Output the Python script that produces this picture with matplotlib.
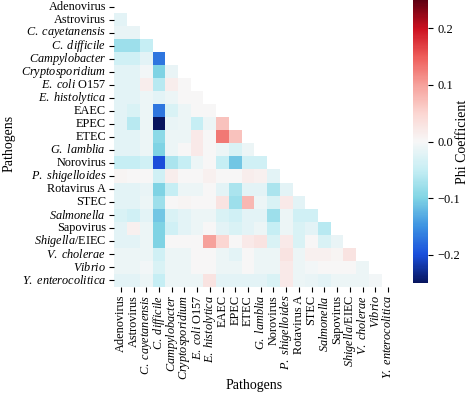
import numpy as np
import matplotlib
matplotlib.use('Agg')
import matplotlib.pyplot as plt
from matplotlib.colors import LinearSegmentedColormap
import seaborn as sns

plt.rcParams['font.family'] = 'Liberation Serif'
plt.rcParams['mathtext.fontset'] = 'custom'
plt.rcParams['mathtext.rm'] = 'Liberation Serif'
plt.rcParams['mathtext.it'] = 'Liberation Serif:italic'

pathogens = ['Adenovirus', 'Astrovirus', r'$\mathit{C.\ cayetanensis}$', r'$\mathit{C.\ difficile}$',
             r'$\mathit{Campylobacter}$', r'$\mathit{Cryptosporidium}$', r'$\mathit{E.\ coli}$ O157',
             r'$\mathit{E.\ histolytica}$', 'EAEC', 'EPEC', 'ETEC', r'$\mathit{G.\ lamblia}$',
             'Norovirus', r'$\mathit{P.\ shigelloides}$', 'Rotavirus A', 'STEC', r'$\mathit{Salmonella}$',
             'Sapovirus', r'$\mathit{Shigella}$/EIEC', r'$\mathit{V.\ cholerae}$', r'$\mathit{Vibrio}$',
             r'$\mathit{Y.\ enterocolitica}$']

# lower triangle of phi coefficients, row i has i values (cols 0..i-1)
phi_rows = [
    [],
    [-0.02],
    [-0.015, -0.015],
    [-0.08, -0.08, -0.05],
    [-0.04, -0.04, -0.02, -0.17],
    [-0.02, -0.02, -0.005, -0.10, -0.015],
    [-0.02, -0.02, 0.015, -0.06, 0.015, 0.0],
    [-0.02, -0.02, -0.01, -0.02, -0.01, 0.0, 0.0],
    [-0.02, -0.03, -0.01, -0.17, -0.03, -0.01, 0.0, 0.0],
    [-0.02, -0.06, -0.01, -0.25, -0.015, -0.01, -0.05, -0.01, 0.07],
    [-0.02, -0.02, -0.01, -0.09, -0.01, -0.01, 0.02, 0.0, 0.13, 0.07],
    [-0.02, -0.02, -0.01, -0.10, -0.01, 0.0, 0.02, 0.0, -0.01, -0.03, -0.01],
    [-0.05, -0.05, -0.04, -0.20, -0.07, -0.05, -0.01, 0.0, -0.05, -0.11, -0.04, -0.04],
    [0.005, 0.0, 0.0, -0.04, 0.015, 0.0, 0.0, 0.01, 0.0, 0.0, 0.015, 0.01, -0.02],
    [-0.02, -0.02, -0.015, -0.10, -0.05, -0.01, -0.01, 0.0, -0.02, -0.07, -0.02, -0.02, -0.07, -0.02],
    [-0.02, -0.02, -0.01, -0.08, 0.0, 0.005, 0.0, 0.0, 0.03, -0.08, 0.08, -0.01, -0.03, 0.02, -0.02],
    [-0.03, -0.04, -0.02, -0.11, -0.03, -0.02, -0.01, -0.01, -0.03, -0.04, -0.02, -0.02, -0.08, -0.01,
     -0.04, -0.04],
    [-0.02, 0.01, -0.01, -0.10, -0.04, -0.02, -0.01, 0.0, -0.02, -0.03, -0.02, -0.01, -0.05, -0.01,
     -0.03, -0.02, -0.06],
    [-0.02, -0.02, -0.01, -0.10, 0.0, 0.0, 0.0, 0.10, 0.05, 0.0, 0.02, 0.03, -0.03, 0.02, -0.03, 0.0,
     -0.03, -0.015],
    [-0.01, -0.01, -0.01, -0.04, -0.01, -0.01, 0.0, 0.0, -0.01, -0.02, 0.0, -0.01, -0.01, 0.03, -0.01,
     0.01, 0.01, 0.005, 0.03],
    [-0.01, -0.01, -0.005, -0.03, -0.01, -0.01, 0.0, 0.0, -0.01, -0.01, 0.0, -0.01, -0.01, 0.02, -0.01,
     -0.005, 0.0, 0.0, 0.0, -0.01],
    [-0.02, -0.02, -0.01, -0.05, -0.01, -0.01, -0.01, 0.03, -0.02, -0.02, -0.02, -0.02, -0.03, 0.02,
     -0.01, -0.015, -0.02, -0.01, -0.01, -0.01, -0.005],
]

n = len(pathogens)
phi = np.zeros((n, n))
for i, row in enumerate(phi_rows):
    for j, v in enumerate(row):
        phi[i, j] = v
        phi[j, i] = v
mask = np.triu(np.ones_like(phi, dtype=bool))

cmap = LinearSegmentedColormap.from_list('phi', [
    (0.0, '#08155e'), (0.1, '#1a4fdc'), (0.2, '#3d93e2'), (0.3, '#80d4e4'),
    (0.4, '#c6eef4'), (0.5, '#f7f7f7'), (0.6, '#fbd6d2'), (0.7, '#f6a29c'),
    (0.8, '#ee5d5a'), (0.9, '#cc1020'), (1.0, '#5e0012')])

fig = plt.figure(figsize=(4.74, 3.97), dpi=100)
ax = fig.add_axes([0.2414, 0.2783, 0.5905, 0.7205])
cax = fig.add_axes([0.871, 0.287, 0.032, 0.713])

sns.heatmap(phi, mask=mask, cmap=cmap, vmin=-0.25, vmax=0.25, ax=ax, cbar_ax=cax,
            xticklabels=pathogens, yticklabels=pathogens)

fs = 8.8
ax.tick_params(length=3.5, width=0.8, pad=2.5)
ax.set_xticklabels(pathogens, rotation=90, fontsize=fs)
ax.set_yticklabels(pathogens, rotation=0, fontsize=fs)
ax.set_xlabel('Pathogens', fontsize=10)
ax.set_ylabel('Pathogens', fontsize=10)
ax.xaxis.set_label_coords(0.5, -0.325)
ax.yaxis.set_label_coords(-0.355, 0.5)

cax.tick_params(labelsize=9, length=3.5, width=0.8)
cax.set_yticks([-0.2, -0.1, 0.0, 0.1, 0.2])
cax.set_ylabel('Phi Coefficient', fontsize=10)
cax.yaxis.set_label_coords(2.85, 0.5)

fig.savefig('out.png', dpi=100)
